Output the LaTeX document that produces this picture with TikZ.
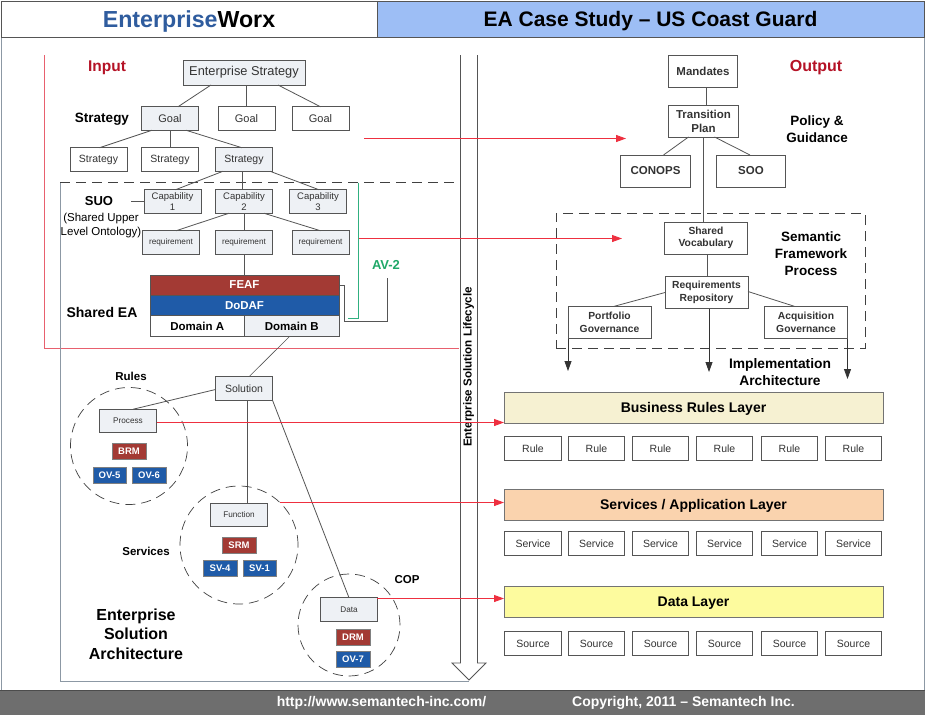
\documentclass[tikz,border=0pt]{standalone}
\usepackage{fontspec}
\setmainfont{Liberation Sans}
\usepackage{xcolor}
\usetikzlibrary{arrows.meta,positioning,calc}
\definecolor{linegray}{HTML}{555555}
\definecolor{boxfill}{HTML}{EEF1F5}
\definecolor{framegray}{HTML}{8C98A4}
\definecolor{headblue}{HTML}{9DBEF5}
\definecolor{titleblue}{HTML}{2F5C9E}
\definecolor{feafred}{HTML}{A33A34}
\definecolor{dodafblue}{HTML}{1F5BA8}
\definecolor{footgray}{HTML}{6E6E6E}
\definecolor{inputred}{HTML}{B51226}
\definecolor{arrowred}{HTML}{EE3040}
\definecolor{edgered}{HTML}{E8606E}
\definecolor{avgreen}{HTML}{1FA868}
\definecolor{edgegreen}{HTML}{30B080}
\definecolor{rulefill}{HTML}{F6F1D2}
\definecolor{svcfill}{HTML}{FAD3AE}
\definecolor{datafill}{HTML}{FDFB9E}
\tikzset{
  box/.style={draw=linegray,fill=white,inner sep=0pt,outer sep=0pt,align=center,text=black!80,line width=0.8pt},
  shade/.style={box,fill=boxfill},
  small/.style={minimum width=57,minimum height=23.5,font=\fontsize{11}{13}\selectfont},
  tiny/.style={minimum width=57,minimum height=23.5,font=\fontsize{8.2}{11}\selectfont},
  outbox/.style={box,minimum width=69.5,minimum height=32,font=\bfseries\fontsize{11.5}{14}\selectfont},
  widebox/.style={box,minimum width=83,minimum height=32,font=\bfseries\fontsize{10.3}{12.6}\selectfont},
  badge/.style={draw=black!50,inner sep=0pt,outer sep=0pt,minimum width=33.5,minimum height=16,text=white,font=\bfseries\fontsize{9.5}{11}\selectfont},
  redbadge/.style={badge,fill=feafred},
  bluebadge/.style={badge,fill=dodafblue},
  band/.style={draw=linegray,text=white,inner sep=0pt,outer sep=0pt,minimum width=189,minimum height=20.5,font=\bfseries\fontsize{11.5}{13}\selectfont},
  layer/.style={draw=black!55,inner sep=0pt,outer sep=0pt,minimum width=379,minimum height=31,text depth=0pt,font=\bfseries\fontsize{14}{15}\selectfont},
  item/.style={box,minimum width=56.5,minimum height=23.5,font=\fontsize{10.5}{12}\selectfont},
  head/.style={font=\bfseries\fontsize{13.5}{17}\selectfont,align=center},
  sub/.style={font=\bfseries\fontsize{11.5}{13}\selectfont,align=center},
  link/.style={draw=linegray,line width=0.8pt},
  feed/.style={draw=arrowred,line width=1pt,-{Triangle[length=10pt,width=7pt,fill=arrowred]}},
  zone/.style={draw=black!75,dash pattern=on 10pt off 6pt,line width=0.7pt},
  lead/.style={link,draw=black!80,-{Triangle[length=10pt,width=7pt]}},
}
\begin{document}
\begin{tikzpicture}[x=1pt,y=-1pt]
\useasboundingbox (0,0) rectangle (925,715);
% header and footer
\fill[white] (0,0) rectangle (925,715);
\draw[framegray,line width=1pt] (1,690) -- (1,1) -- (924,1) -- (924,690);
\node[draw=linegray,fill=white,inner sep=0pt,minimum width=376,minimum height=36,line width=0.8pt,text depth=0pt] (headLeft) at (189,19)
  {\bfseries\fontsize{23.2}{28}\selectfont\textcolor{titleblue}{Enterprise}Worx};
\node[draw=linegray,fill=headblue,inner sep=0pt,minimum width=547,minimum height=36,line width=0.8pt,text depth=0pt] (headRight) at (650.5,19)
  {\bfseries\fontsize{21}{26}\selectfont EA Case Study -- US Coast Guard};
\fill[footgray] (0,690) rectangle (925,715);
\draw[black!70,line width=1pt] (0,690) -- (925,690);
\node[text=white,font=\bfseries\fontsize{14}{15}\selectfont] (footUrl) at (381.5,702.5) {http://www.semantech-inc.com/};
\node[text=white,font=\bfseries\fontsize{14}{15}\selectfont] (footCopy) at (683.5,702.5) {Copyright, 2011 -- Semantech Inc.};
% input frame and solution frame
\draw[edgered,line width=1pt] (44.5,55) -- (44.5,348.5) -- (459,348.5);
\draw[framegray,line width=0.9pt] (60,182.5) -- (60,681) -- (469,681);
\draw[zone] (60,182.5) -- (457,182.5);
% lifecycle arrow
\draw[linegray,fill=white,line width=0.8pt] (460.5,55) -- (460.5,663) -- (452,663) -- (469,680) -- (486,663) -- (477.5,663) -- (477.5,55);
\node[rotate=90,font=\bfseries\fontsize{11.6}{12}\selectfont] (lifeText) at (468.5,367) {Enterprise Solution Lifecycle};
% strategy tree
\node[shade,minimum width=122,minimum height=25,font=\fontsize{12.8}{14}\selectfont] (entStrategy) at (244,72.5) {Enterprise Strategy};
\node[shade,small] (goalA) at (170,118.5) {Goal};
\node[box,small] (goalB) at (246.5,118.5) {Goal};
\node[box,small] (goalC) at (320.5,118.5) {Goal};
\node[box,small,font=\fontsize{10.5}{13}\selectfont] (stratA) at (98.5,159.5) {Strategy};
\node[box,small,font=\fontsize{10.5}{13}\selectfont] (stratB) at (170,159.5) {Strategy};
\node[shade,small,font=\fontsize{10.5}{13}\selectfont] (stratC) at (244,159.5) {Strategy};
\node[shade,tiny,font=\fontsize{9.5}{11}\selectfont] (capA) at (172.5,201.5) {Capability\\1};
\node[shade,tiny,font=\fontsize{9.5}{11}\selectfont] (capB) at (244,201.5) {Capability\\2};
\node[shade,tiny,font=\fontsize{9.5}{11}\selectfont] (capC) at (318,201.5) {Capability\\3};
\node[shade,tiny] (reqA) at (171,242.5) {requirement};
\node[shade,tiny] (reqB) at (244,242.5) {requirement};
\node[shade,tiny] (reqC) at (320.5,242.5) {requirement};
\draw[link] ($(entStrategy.south)+(-33,0)$) -- ($(goalA.north)+(8,0)$);
\draw[link] (entStrategy.south -| goalB) -- (goalB.north);
\draw[link] ($(entStrategy.south)+(34,0)$) -- (goalC.north);
\draw[link] ($(goalA.south)+(-18,0)$) -- ($(stratA.north)+(1,0)$);
\draw[link] (goalA.south) -- (stratB.north);
\draw[link] ($(goalA.south)+(16,0)$) -- ($(stratC.north)+(-2,0)$);
\draw[link] ($(stratC.south)+(-21,0)$) -- ($(capA.north)+(3,0)$);
\draw[link] ($(stratC.south)+(-2,0)$) -- ($(capB.north)+(-2,0)$);
\draw[link] ($(stratC.south)+(26,0)$) -- ($(capC.north)+(1,0)$);
\draw[link] ($(capB.south)+(-15,0)$) -- ($(reqA.north)+(5,0)$);
\draw[link] (capB.south) -- (reqB.north);
\draw[link] ($(capB.south)+(20,0)$) -- (reqC.north);
% shared ea stack
\node[band,fill=feafred] (feaf) at (244.5,285) {FEAF};
\node[band,fill=dodafblue,below=0pt of feaf] (dodaf) {DoDAF};
\node[box,text=black,minimum width=94.5,minimum height=20.5,font=\bfseries\fontsize{11.5}{13}\selectfont,anchor=north east] (domA) at (dodaf.south) {Domain A};
\node[shade,text=black,minimum width=94.5,minimum height=20.5,font=\bfseries\fontsize{11.5}{13}\selectfont,anchor=north west] (domB) at (dodaf.south) {Domain B};
\draw[link] (reqB.south) -- (reqB.south |- feaf.north);
% av-2
\node[font=\bfseries\fontsize{13}{15}\selectfont,text=avgreen] (avTwo) at (386,265) {AV-2};
\draw[edgegreen,line width=1pt] (358.5,182.5) -- (358.5,318.5) -- (348,318.5);
\draw[link] (feaf.east) -- ++(5,0) -- ++(0,36) -| ($(avTwo.south)+(1,5)$);
% solution tree
\node[shade,small,font=\fontsize{10.5}{13}\selectfont] (solution) at (244,388.5) {Solution};
\node[shade,tiny] (process) at (128,421) {Process};
\node[shade,tiny] (function) at (239,515) {Function};
\node[shade,tiny] (dataBox) at (349,609.5) {Data};
\draw[link,line width=0.6pt] ($(domB.south)+(-2,0)$) -- ($(solution.north)+(5,0)$);
\draw[link] ($(solution.west)+(0,1)$) -- ($(process.north)+(5,0)$);
\draw[link] ($(solution.south)+(3,0)$) -- (function.north -| 247,0);
\draw[link] (solution.south east) -- (dataBox.north);
% rules circle
\node[draw=black!75,circle,dash pattern=on 10pt off 6pt,line width=0.7pt,minimum size=117,inner sep=0pt] (rulesZone) at (129,446) {};
\node[redbadge] (brm) at (129,451.5) {BRM};
\node[bluebadge] (ovFive) at (109.5,475) {OV-5};
\node[bluebadge] (ovSix) at (149,475) {OV-6};
% services circle
\node[draw=black!75,circle,dash pattern=on 10pt off 6pt,line width=0.7pt,minimum size=118,inner sep=0pt] (svcZone) at (239,545) {};
\node[redbadge] (srm) at (239,545.5) {SRM};
\node[bluebadge] (svFour) at (220,568.5) {SV-4};
\node[bluebadge] (svOne) at (259.5,568.5) {SV-1};
% data circle
\node[draw=black!75,circle,dash pattern=on 10pt off 6pt,line width=0.7pt,minimum size=102,inner sep=0pt] (dataZone) at (349,625) {};
\node[redbadge] (drm) at (353,637) {DRM};
\node[bluebadge] (ovSeven) at (353,659) {OV-7};
% left labels
\node[head,text=inputred,font=\bfseries\fontsize{15.5}{17}\selectfont] (inputLabel) at (107,67.5) {Input};
\node[sub,font=\bfseries\fontsize{13.5}{15}\selectfont] (stratLabel) at (102,119.5) {Strategy};
\node[sub,font=\bfseries\fontsize{13}{15}\selectfont] (suoLabel) at (99,201.5) {SUO};
\node[font=\fontsize{11.5}{14}\selectfont,align=center] (suoText) at (101,225.5) {(Shared Upper\\Level Ontology)};
\draw[link] ($(capA.west)+(-13,0)$) -- (capA.west);
\node[sub,font=\bfseries\fontsize{14}{15}\selectfont] (sharedLabel) at (102,312) {Shared EA};
\node[sub] (rulesLabel) at (131,376.5) {Rules};
\node[sub] (svcLabel) at (146,551.5) {Services};
\node[sub] (copLabel) at (407,579.5) {COP};
\node[font=\bfseries\fontsize{16}{19.6}\selectfont,align=center] (esaLabel) at (136,634) {Enterprise\\Solution\\Architecture};
% right tree
\node[outbox] (mandates) at (703,71) {Mandates};
\node[outbox] (transition) at (703.5,121) {Transition\\Plan};
\node[outbox] (conops) at (655.5,171) {CONOPS};
\node[outbox] (soo) at (751,171) {SOO};
\node[zone,draw,minimum width=309,minimum height=135,inner sep=0pt] (semZone) at (710.5,280.5) {};
\node[widebox] (vocab) at (706,238) {Shared\\Vocabulary};
\node[widebox] (reqRepo) at (706.5,292.5) {Requirements\\Repository};
\node[widebox] (portfolio) at (609.5,322.5) {Portfolio\\Governance};
\node[widebox] (acquisition) at (806,322.5) {Acquisition\\Governance};
\draw[link] ($(mandates.south)+(3,0)$) -- ($(transition.north)+(2.5,0)$);
\draw[link] (transition.south) -- (transition.south |- vocab.north);
\draw[link] ($(transition.south)+(-15,0)$) -- ($(conops.north)+(8,0)$);
\draw[link] ($(transition.south)+(11,0)$) -- ($(soo.north)+(-1,0)$);
\draw[link] ($(vocab.south)+(1,0)$) -- ($(reqRepo.north)+(0.5,0)$);
\draw[link] (reqRepo.west) -- ($(portfolio.north)+(4,0)$);
\draw[link] ($(reqRepo.east)+(0,-1)$) -- ($(acquisition.north)+(-11,0)$);
\coordinate (leadA) at (568,371);
\coordinate (leadB) at (709,372);
\coordinate (leadC) at (847.5,379);
\draw[lead] (portfolio.south west) -- (leadA);
\draw[lead] (reqRepo.south -| leadB) -- (leadB);
\draw[lead] (acquisition.south east) -- (leadC);
% right labels
\node[head,text=inputred,font=\bfseries\fontsize{16}{17}\selectfont] (outputLabel) at (816,67.5) {Output};
\node[head] (policyLabel) at (817,129.5) {Policy \&\\Guidance};
\node[head] (semLabel) at (811,253.5) {Semantic\\Framework\\Process};
\node[head,font=\bfseries\fontsize{13.8}{17}\selectfont] (implLabel) at (780,372) {Implementation\\Architecture};
% layers
\node[layer,fill=rulefill] (layerRules) at (693.5,407.5) {Business Rules Layer};
\node[layer,fill=svcfill] (layerSvc) at (693.5,504.5) {Services / Application Layer};
\node[layer,fill=datafill] (layerData) at (693.5,601.5) {Data Layer};
\foreach \x/\n in {533/a,596.5/b,660.5/c,724.5/d,789.5/e,853.5/f}{
  \node[item] (rule\n) at (\x,448.5) {Rule};
  \node[item] (service\n) at (\x,543.5) {Service};
  \node[item] (source\n) at (\x,643.5) {Source};
}
% red feeds
\coordinate (feedA) at (364,138.5);
\coordinate (feedATip) at (626,138.5);
\coordinate (feedB) at (359,238.5);
\coordinate (feedBTip) at (622,238.5);
\coordinate (feedC) at (280,502.5);
\coordinate (feedD) at (377,598.5);
\coordinate (feedE) at (156.5,422.5);
\draw[feed] (feedA) -- (feedATip);
\draw[feed] (feedB) -- (feedBTip);
\draw[feed] (feedE) -- (feedE -| layerRules.west);
\draw[feed] (feedC) -- (feedC -| layerSvc.west);
\draw[feed] (feedD) -- (feedD -| layerData.west);
\end{tikzpicture}
\end{document}
